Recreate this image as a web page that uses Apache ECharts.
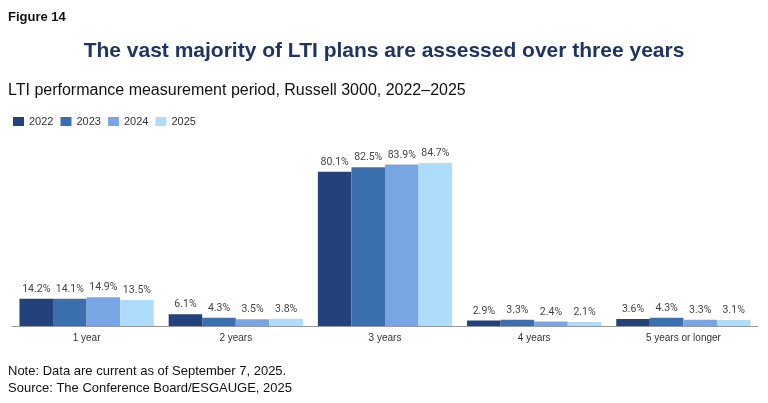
<!DOCTYPE html>
<html>
<head>
<meta charset="utf-8">
<script src="https://cdn.jsdelivr.net/npm/echarts@6/dist/echarts.min.js"></script>
<style>
  html, body { margin: 0; padding: 0; background: #fff; }
  #chart { width: 768px; height: 403px; }
</style>
</head>
<body>
<div id="chart"></div>
<script>
// data
var categories = ['1 year', '2 years', '3 years', '4 years', '5 years or longer'];
var years = ['2022', '2023', '2024', '2025'];
var v2022 = [14.2, 6.1, 80.1, 2.9, 3.6];
var v2023 = [14.1, 4.3, 82.5, 3.3, 4.3];
var v2024 = [14.9, 3.5, 83.9, 2.4, 3.3];
var v2025 = [13.5, 3.8, 84.7, 2.1, 3.1];
var colors = ['#23417a', '#3b6fae', '#78a6e4', '#aedcfa'];

var allValues = [v2022, v2023, v2024, v2025];

var myChart = echarts.init(document.getElementById('chart'));

var series = years.map(function (y, i) {
  return {
    name: y,
    type: 'bar',
    data: allValues[i],
    barGap: '0%',
    barCategoryGap: '10%',
    itemStyle: { color: colors[i] },
    label: {
      show: true,
      position: 'top',
      distance: 4,
      formatter: function (p) { return p.value.toFixed(1) + '%'; },
      color: '#444',
      fontFamily: 'Roboto',
      fontSize: 10.5
    }
  };
});

var option = {
  animation: false,
  textStyle: { fontFamily: 'Liberation Sans' },
  title: [
    {
      text: 'Figure 14',
      left: 8, top: 11, padding: 0,
      textStyle: { fontSize: 13, fontWeight: 'bold', color: '#111', fontFamily: 'Liberation Sans' }
    },
    {
      text: 'The vast majority of LTI plans are assessed over three years',
      left: 'center', top: 41, padding: 0,
      textStyle: { fontSize: 21, fontWeight: 'bold', color: '#1f3461', fontFamily: 'Liberation Sans' }
    },
    {
      text: 'LTI performance measurement period, Russell 3000, 2022\u20132025',
      left: 8, top: 83, padding: 0,
      textStyle: { fontSize: 16, fontWeight: 'normal', color: '#111', fontFamily: 'Liberation Sans' }
    },
    {
      text: 'Note: Data are current as of September 7, 2025.\nSource: The Conference Board/ESGAUGE, 2025',
      left: 8, top: 363, padding: 0,
      textStyle: { fontSize: 13, fontWeight: 'normal', color: '#111', lineHeight: 17, fontFamily: 'Liberation Sans' }
    }
  ],
  legend: {
    data: years,
    left: 13, top: 116, padding: 0,
    icon: 'rect',
    itemWidth: 11, itemHeight: 9,
    itemGap: 7,
    textStyle: { fontSize: 11, color: '#333' }
  },
  grid: { left: 12, right: 10, top: 133.5, bottom: 77, containLabel: false },
  xAxis: {
    type: 'category',
    data: categories,
    axisLine: { lineStyle: { color: '#999', width: 1 } },
    axisTick: { show: false },
    axisLabel: { color: '#333', fontSize: 10, margin: 7 }
  },
  yAxis: {
    type: 'value',
    min: 0, max: 100,
    show: false,
    splitLine: { show: false }
  },
  series: series
};

myChart.setOption(option);
</script>
</body>
</html>
